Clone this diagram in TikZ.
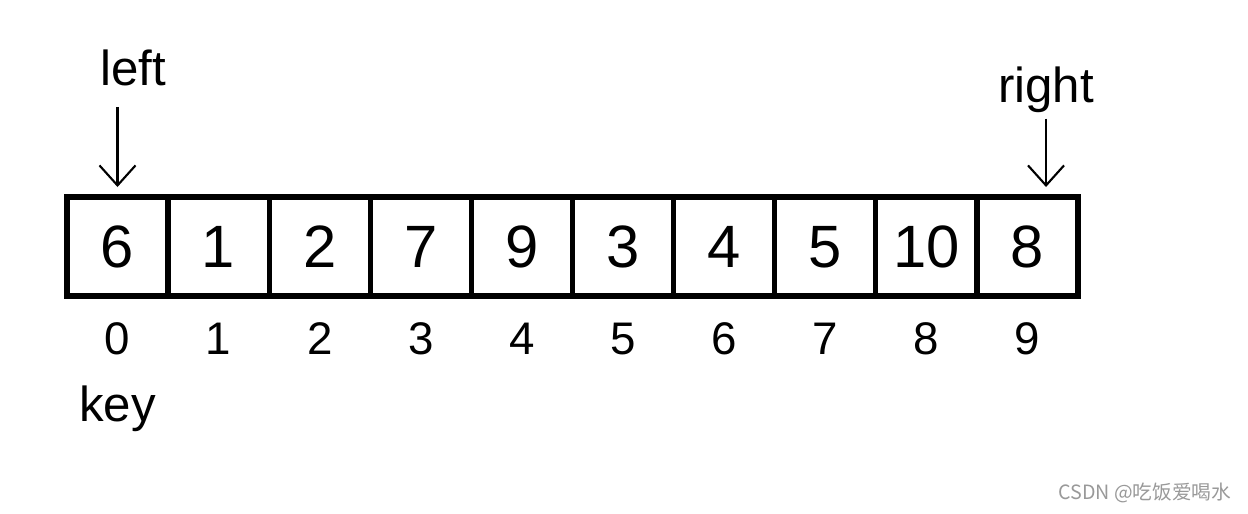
\documentclass[tikz,border=0pt]{standalone}
\usepackage{fontspec}
\setmainfont{Liberation Sans}
\newfontfamily\cjkfont{Noto Sans CJK SC}
\usetikzlibrary{positioning, arrows.meta}

\begin{document}
\begin{tikzpicture}[
    cell/.style = {draw, line width=1.5pt, minimum width=1.011cm, minimum height=0.99cm, inner sep=0pt, outer sep=0pt, text height=12.2pt, text depth=0pt, font=\fontsize{17}{20}\selectfont},
    idx/.style = {inner sep=0pt, text height=9.3pt, text depth=0pt, font=\fontsize{13}{15}\selectfont},
    lbl/.style = {inner sep=0pt, font=\fontsize{14}{16}\selectfont},
    ptr/.style = {-{Straight Barb[length=2mm, width=3.6mm]}, line width=0.6pt}
]
    \useasboundingbox (0,0) rectangle (12.48,5.13);
    % array cells and their indices
    \foreach \v [count=\i from 0] in {6,1,2,7,9,3,4,5,10,8} {
        \node[cell] (c\i) at (1.175+1.011*\i, 2.665) {\v};
        \node[idx, below=0.25cm of c\i] (k\i) {\i};
    }
    \node[lbl, below=0.3cm of k0] (key) {key};
    % pointers
    \node[lbl] (lft) at (1.33,4.45) {left};
    \node[lbl] (rgt) at (10.46,4.23) {right};
    \draw[ptr, shorten <=0.2cm, shorten >=0.1cm] (lft.south -| c0.north) -- (c0.north);
    \draw[ptr, shorten <=0.05cm, shorten >=0.1cm] (rgt.south) -- (rgt.south |- c9.north);
    \node[text=gray!80, inner sep=0pt, font=\cjkfont\fontsize{5.6}{6}\selectfont, anchor=east] (mark) at (12.32,0.2) {CSDN @吃饭爱喝水};
\end{tikzpicture}
\end{document}
